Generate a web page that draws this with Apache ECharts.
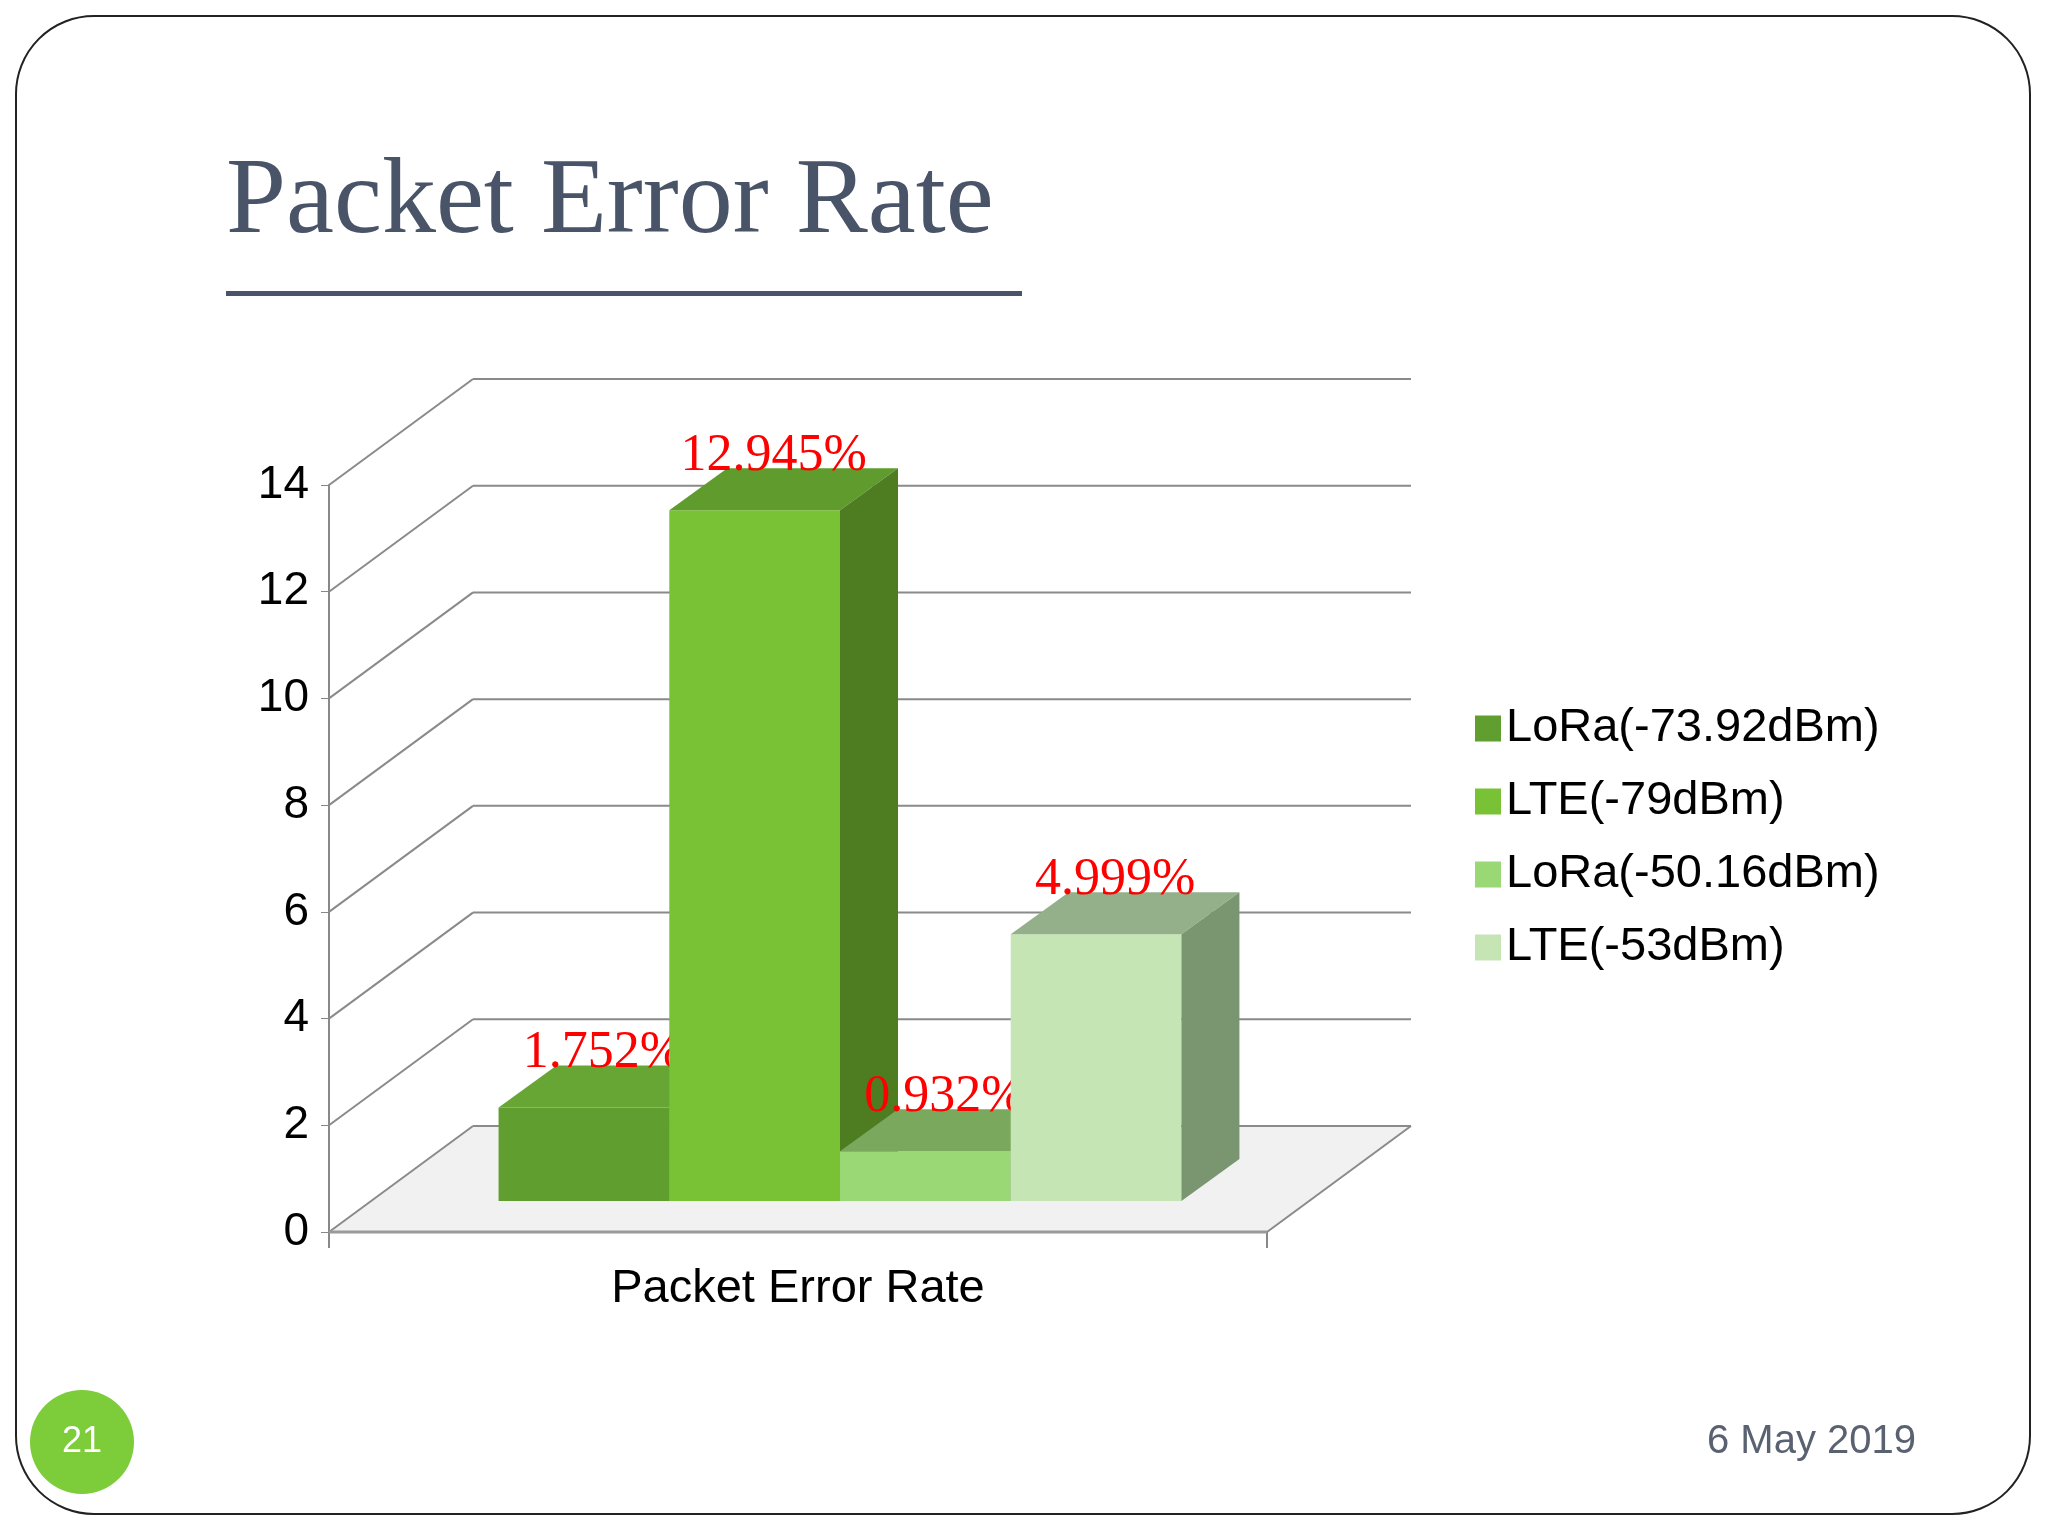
<!DOCTYPE html>
<html>
<head>
<meta charset="utf-8">
<script src="https://cdn.jsdelivr.net/npm/echarts@6/dist/echarts.min.js"></script>
<style>html,body{margin:0;padding:0;background:#fff}#main{width:2048px;height:1536px}</style>
</head>
<body>
<div id="main"></div>
<script>
// 数据
const categories = ['Packet Error Rate']
const seriesNames = ['LoRa(-73.92dBm)', 'LTE(-79dBm)', 'LoRa(-50.16dBm)', 'LTE(-53dBm)']
const seriesValues = [1.752, 12.945, 0.932, 4.999]
const valueLabels = ['1.752%', '12.945%', '0.932%', '4.999%']
const yTicks = [0, 2, 4, 6, 8, 10, 12, 14]

// 颜色: 正面 / 顶面 / 侧面
const faceColors = [
    ['#5f9e2f', '#67a534', '#4c8024'],
    ['#79c236', '#5f9b2d', '#4e7d21'],
    ['#9ad775', '#7aa85c', '#6e9a55'],
    ['#c5e5b4', '#94b08a', '#7a9670']
]

const DX = 144, DY = -106      // 背板偏移
const BDX = 58, BDY = -42      // 柱子深度
const FDX = 42, FDY = -31      // 柱子离前平面的偏移

let myChart = echarts.init(document.getElementById('main'))

// 网格线(3D 背板)
function renderGrid(params, api) {
    const cs = params.coordSys
    const y = api.coord([0, api.value(1)])[1]
    const x = cs.x, w = cs.width
    const style = { stroke: '#8a8a8a', lineWidth: 2 }
    const children = [
        { type: 'line', shape: { x1: x, y1: y, x2: x + DX, y2: y + DY }, style },
        { type: 'line', shape: { x1: x + DX, y1: y + DY, x2: x + w + DX, y2: y + DY }, style }
    ]
    if (api.value(1) === 0) {
        children.unshift({
            type: 'polygon',
            shape: { points: [[x, y], [x + w, y], [x + w + DX, y + DY], [x + DX, y + DY]] },
            style: { fill: '#f1f1f1' }
        })
        children.push({ type: 'line', shape: { x1: x, y1: y, x2: x + w, y2: y }, style: { stroke: '#999', lineWidth: 3 } })
        children.push({ type: 'line', shape: { x1: x + w, y1: y, x2: x + w + DX, y2: y + DY }, style })
    }
    return { type: 'group', children }
}

function makeBarRender(idx) {
    return function (params, api) {
        const p0 = api.coord([0, 0])
        const p1 = api.coord([0, api.value(1)])
        const band = api.size([1, 0])[0]
        const bw = band * 0.182
        const x0 = p0[0] + FDX - 2 * bw + idx * bw
        const yB = p0[1] + FDY, yT = p1[1] + FDY
        const c = faceColors[idx]
        return {
            type: 'group',
            children: [
                { type: 'rect', shape: { x: x0, y: yT, width: bw, height: yB - yT }, style: { fill: c[0] } },
                { type: 'polygon', shape: { points: [[x0, yT], [x0 + bw, yT], [x0 + bw + BDX, yT + BDY], [x0 + BDX, yT + BDY]] }, style: { fill: c[1] } },
                { type: 'polygon', shape: { points: [[x0 + bw, yT], [x0 + bw + BDX, yT + BDY], [x0 + bw + BDX, yB + BDY], [x0 + bw, yB]] }, style: { fill: c[2] } },
                {
                    type: 'text', z2: 10,
                    style: {
                        text: valueLabels[idx], x: x0 + bw / 2 + BDX / 2 - 10, y: yT + BDY + 14,
                        align: 'center', verticalAlign: 'bottom',
                        fill: '#ff0000', font: '52px "Liberation Serif"'
                    }
                }
            ]
        }
    }
}

let series = [{
    type: 'custom', name: 'grid', silent: true, z: 1,
    renderItem: renderGrid,
    data: yTicks.map(v => [0, v])
}]
seriesNames.forEach((name, i) => {
    series.push({
        type: 'custom', name, z: 2 + i,
        itemStyle: { color: faceColors[i][0] },
        renderItem: makeBarRender(i),
        data: [[0, seriesValues[i]]]
    })
})

let options = {
    animation: false,
    grid: { left: 329, right: 781, top: 485, bottom: 304 },
    xAxis: {
        type: 'category', data: categories,
        axisLine: { show: false },
        axisTick: { show: true, length: 16, lineStyle: { color: '#888', width: 2 } },
        axisLabel: { fontSize: 47, color: '#000', fontFamily: 'Liberation Sans', margin: 34 }
    },
    yAxis: {
        type: 'value', min: 0, max: 14, interval: 2,
        axisLine: { show: true, lineStyle: { color: '#888', width: 2 } },
        axisTick: { show: true, length: 8, lineStyle: { color: '#888' } },
        splitLine: { show: false },
        axisLabel: { fontSize: 46, color: '#000', fontFamily: 'Liberation Sans', margin: 20 }
    },
    legend: {
        data: seriesNames.map(n => ({ name: n, icon: 'rect' })),
        orient: 'vertical', left: 1470, top: 700,
        itemWidth: 26, itemHeight: 26, itemGap: 26,
        textStyle: { fontSize: 47, color: '#000', fontFamily: 'Liberation Sans' }
    },
    graphic: [
        { type: 'rect', shape: { x: 16, y: 16, width: 2014, height: 1498, r: 78 }, style: { fill: 'none', stroke: '#222', lineWidth: 2 }, z: -10 },
        { type: 'text', left: 226, top: 150, style: { text: 'Packet Error Rate', font: '108px "Liberation Serif"', fill: '#4a5468' } },
        { type: 'rect', shape: { x: 226, y: 291, width: 796, height: 5 }, style: { fill: '#4a5468' } },
        { type: 'circle', shape: { cx: 82, cy: 1442, r: 52 }, style: { fill: '#7dcc3a' } },
        { type: 'text', style: { text: '21', x: 82, y: 1442, align: 'center', verticalAlign: 'middle', font: '36px "Liberation Sans"', fill: '#fff' } },
        { type: 'text', style: { text: '6 May 2019', x: 1916, y: 1442, align: 'right', verticalAlign: 'middle', font: '40px "Liberation Sans"', fill: '#5a6272' } }
    ],
    series
}
myChart.setOption(options)
</script>
</body>
</html>
